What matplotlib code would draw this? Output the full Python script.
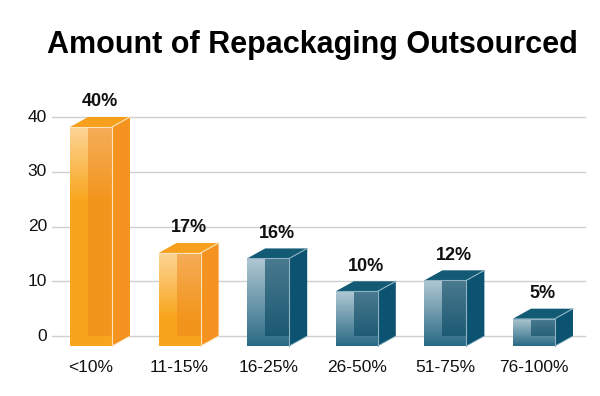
import numpy as np
import matplotlib
matplotlib.use('Agg')
import matplotlib.pyplot as plt
from matplotlib.patches import Polygon, Rectangle
from matplotlib.colors import LinearSegmentedColormap

categories = ['<10%', '11-15%', '16-25%', '26-50%', '51-75%', '76-100%']
values = [40, 17, 16, 10, 12, 5]
labels = ['40%', '17%', '16%', '10%', '12%', '5%']
yticks = [0, 10, 20, 30, 40]

plt.rcParams['font.family'] = ['Liberation Sans', 'DejaVu Sans']

W, H = 600, 396
fig = plt.figure(figsize=(W / 100, H / 100), dpi=100)
# axes placed in pixel terms: x 52..585, y(-2)=347, y(40)=117
ymin, ymax = -2, 40
ax = fig.add_axes([52 / W, (H - 347) / H, (585 - 52) / W, (347 - 117) / H])
px_x = 88.6            # pixels per category
x0 = -(91 - 52) / px_x  # left limit
x1 = x0 + (585 - 52) / px_x
ax.set_xlim(x0, x1)
ax.set_ylim(ymin, ymax)
px_y = (347 - 117) / (ymax - ymin)

bw = 42 / px_x
dx = 18 / px_x
dy = 10 / px_y

for s in ax.spines.values():
    s.set_visible(False)
ax.set_xticks([])
ax.set_yticks([])

# grid lines
for t in yticks:
    ax.plot([x0, x1], [t, t], color='#cfcfcf', lw=1, zorder=0, clip_on=False)
    ax.text(x0 - 5 / px_x, t, str(t), ha='right', va='center', fontsize=12.5, color='#111111')

orange = dict(light='#fdd597', base='#f8a51c', side='#f4931f', top='#f6a01d', over='#ee861c', edge='#fde3b8')
teal = dict(light='#b0c8d3', base='#2a6a84', side='#0b5370', top='#135a74', over='#064661', edge='#8fb3c3')

for i, (v, cat, lab) in enumerate(zip(values, categories, labels)):
    c = orange if i < 2 else teal
    L, R = i - bw / 2, i + bw / 2
    fb, ft = -dy, v - dy
    # front face gradient
    if i < 2:
        glen = min(0.7 * (ft - fb), 75 / px_y)
    else:
        glen = ft - fb
    n = 200
    ys = np.linspace(ft, fb, n)
    frac = np.clip((ft - ys) / glen, 0, 1)
    cmap = LinearSegmentedColormap.from_list('g', [c['light'], c['base']])
    img = frac.reshape(-1, 1)
    im = ax.imshow(img, cmap=cmap, vmin=0, vmax=1, aspect='auto',
                   extent=[L, R, fb, ft], origin='upper', zorder=2)
    rect = Rectangle((L, fb), bw, ft - fb, transform=ax.transData, facecolor='none')
    ax.add_patch(rect)
    im.set_clip_path(rect)
    # back face seen through the front
    ax.add_patch(Rectangle((L + dx, 0), R - (L + dx), ft, facecolor=c['over'],
                           alpha=0.5 if i < 2 else 0.6, lw=0, zorder=3))
    # right side
    ax.add_patch(Polygon([(R, fb), (R, ft), (R + dx, v), (R + dx, 0)], closed=True,
                         facecolor=c['side'], lw=0, zorder=3))
    # top
    ax.add_patch(Polygon([(L, ft), (R, ft), (R + dx, v), (L + dx, v)], closed=True,
                         facecolor=c['top'], lw=0, zorder=3))
    # light edges
    ax.plot([L, R, R], [ft, ft, fb], color=c['edge'], lw=0.8, zorder=4)
    ax.plot([R, R + dx], [ft, v], color=c['edge'], lw=0.8, zorder=4)
    ax.plot([R, R + dx], [fb, 0], color=c['edge'], lw=0.6, zorder=4)

    ax.text(i + dx / 2, v + 15 / px_y, lab, ha='center', va='center',
            fontsize=13, fontweight='bold', color='#111111')
    ax.text(i, ymin - 21 / px_y, cat, ha='center', va='center', fontsize=12.5,
            color='#111111')

fig.text(0.52, (H - 45) / H, 'Amount of Repackaging Outsourced', ha='center', va='center',
         fontsize=22, fontweight='bold', color='black')

fig.savefig('out.png', dpi=100)
